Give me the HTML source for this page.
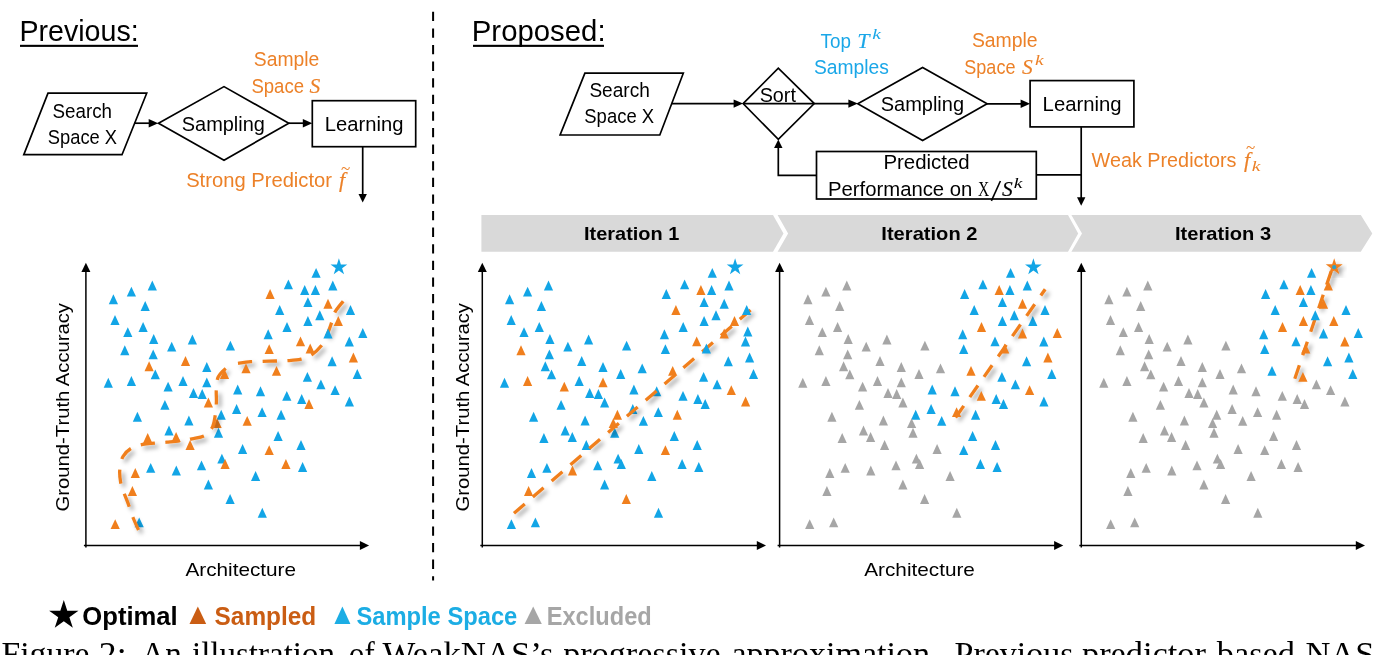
<!DOCTYPE html>
<html><head><meta charset="utf-8"><title>WeakNAS figure</title>
<style>html,body{margin:0;padding:0;background:#fff;}body{width:1380px;height:655px;overflow:hidden;font-family:"Liberation Sans",sans-serif;}svg{display:block;will-change:transform;}text{font-family:"Liberation Sans",sans-serif;}.m{font-family:"Liberation Serif",serif;font-style:italic;stroke-width:0.15px;}.s{font-family:"Liberation Serif",serif;}</style></head><body>
<svg width="1380" height="655" viewBox="0 0 1380 655">
<defs><filter id="sh" x="-20%" y="-20%" width="140%" height="140%"><feDropShadow dx="3.2" dy="3.2" stdDeviation="2.2" flood-color="#000" flood-opacity="0.36"/></filter></defs>
<rect x="0" y="0" width="1380" height="655" fill="#fff"/>
<text x="19.47" y="40.9" font-size="28.7" fill="#000" textLength="119.22" lengthAdjust="spacingAndGlyphs">Previous:</text>
<rect x="20" y="44.8" width="118" height="2.1" fill="#000"/>
<text x="471.81" y="40.9" font-size="28.7" fill="#000" textLength="133.74" lengthAdjust="spacingAndGlyphs">Proposed:</text>
<rect x="473" y="44.8" width="131" height="2.1" fill="#000"/>
<line x1="433.1" y1="11.8" x2="433.1" y2="580.4" stroke="#000" stroke-width="2" stroke-dasharray="9.3 7.3"/>
<polygon points="48,93.2 146.7,93.2 122.0,154.7 23.8,154.7" fill="none" stroke="#000" stroke-width="1.7"/>
<text x="52.61" y="117.5" font-size="19.7" fill="#000" textLength="59.44" lengthAdjust="spacingAndGlyphs">Search</text>
<text x="47.83" y="144.29999999999998" font-size="19.7" fill="#000" textLength="69.17" lengthAdjust="spacingAndGlyphs">Space X</text>
<line x1="134.3" y1="123.2" x2="149.7" y2="123.2" stroke="#000" stroke-width="1.7"/><polygon points="158.2,123.2 148.7,119.0 148.7,127.4" fill="#000"/>
<polygon points="158.5,123.2 224,86.6 288.8,123.2 224,160.2" fill="none" stroke="#000" stroke-width="1.7"/>
<text x="181.78" y="130.6" font-size="19.7" fill="#000" textLength="83.14" lengthAdjust="spacingAndGlyphs">Sampling</text>
<line x1="288.8" y1="123.2" x2="303.8" y2="123.2" stroke="#000" stroke-width="1.7"/><polygon points="312.3,123.2 302.8,119.0 302.8,127.4" fill="#000"/>
<rect x="312.3" y="100.7" width="103.4" height="46" fill="none" stroke="#000" stroke-width="1.7"/>
<text x="324.82" y="130.9" font-size="19.7" fill="#000" textLength="78.61" lengthAdjust="spacingAndGlyphs">Learning</text>
<line x1="362.7" y1="146.7" x2="362.7" y2="195.0" stroke="#000" stroke-width="1.7"/><polygon points="362.7,202.5 358.5,194.0 366.9,194.0" fill="#000"/>
<text x="253.8" y="66.1" font-size="19.7" fill="#EC8128" textLength="65.49" lengthAdjust="spacingAndGlyphs">Sample</text>
<text y="92.6" fill="#EC8128"><tspan x="251.42" font-size="19.7" textLength="52.63" lengthAdjust="spacingAndGlyphs">Space</tspan><tspan class="m" x="309.5" font-size="21.5" stroke="#EC8128">S</tspan></text>
<text y="187.0" fill="#EC8128"><tspan x="186.17" font-size="19.7" textLength="145.83" lengthAdjust="spacingAndGlyphs">Strong Predictor</tspan><tspan class="m" x="339" font-size="22" stroke="#EC8128">f</tspan></text>
<text x="341" y="173.5" font-size="17" fill="#EC8128" class="s">~</text>
<polygon points="584.9,73.2 683.3,73.2 659.8,135 560.1,135" fill="none" stroke="#000" stroke-width="1.7"/>
<text x="589.4" y="97.0" font-size="19.7" fill="#000" textLength="60.47" lengthAdjust="spacingAndGlyphs">Search</text>
<text x="584.32" y="123.19999999999999" font-size="19.7" fill="#000" textLength="69.78" lengthAdjust="spacingAndGlyphs">Space X</text>
<line x1="671.6" y1="103.6" x2="734.6" y2="103.6" stroke="#000" stroke-width="1.7"/><polygon points="743.1,103.6 733.6,99.39999999999999 733.6,107.8" fill="#000"/>
<polygon points="743.1,103.6 778.3,68.2 814.3,103.6 778.3,139.4" fill="none" stroke="#000" stroke-width="1.7"/>
<line x1="743.1" y1="103.6" x2="814.3" y2="103.6" stroke="#000" stroke-width="1.7"/>
<text x="759.68" y="102.3" font-size="19.7" fill="#000" textLength="36.25" lengthAdjust="spacingAndGlyphs">Sort</text>
<line x1="814.3" y1="103.6" x2="849.4" y2="103.6" stroke="#000" stroke-width="1.7"/><polygon points="857.9,103.6 848.4,99.39999999999999 848.4,107.8" fill="#000"/>
<polygon points="857.8,103.8 922.6,67.4 987.1,103.8 922.6,140.4" fill="none" stroke="#000" stroke-width="1.7"/>
<text x="880.68" y="110.8" font-size="19.7" fill="#000" textLength="83.35" lengthAdjust="spacingAndGlyphs">Sampling</text>
<line x1="987.1" y1="103.8" x2="1021.5999999999999" y2="103.8" stroke="#000" stroke-width="1.7"/><polygon points="1030.1,103.8 1020.5999999999999,99.6 1020.5999999999999,108.0" fill="#000"/>
<rect x="1030.1" y="80.6" width="103.8" height="46.3" fill="none" stroke="#000" stroke-width="1.7"/>
<text x="1042.61" y="111.39999999999999" font-size="19.7" fill="#000" textLength="79.03" lengthAdjust="spacingAndGlyphs">Learning</text>
<line x1="1081.2" y1="126.9" x2="1081.2" y2="198.3" stroke="#000" stroke-width="1.7"/><polygon points="1081.2,205.8 1077.0,197.3 1085.4,197.3" fill="#000"/>
<rect x="816.5" y="151.5" width="219.8" height="47.5" fill="#fff" stroke="#000" stroke-width="1.7"/>
<line x1="1036.8" y1="174.8" x2="1081.2" y2="174.8" stroke="#000" stroke-width="1.7"/>
<polyline points="816.5,175.3 778.3,175.3 778.3,146" fill="none" stroke="#000" stroke-width="1.7"/>
<polygon points="778.3,139.4 774.1,147.9 782.5,147.9" fill="#000"/>
<text x="883.41" y="168.6" font-size="19.7" fill="#000" textLength="86.24" lengthAdjust="spacingAndGlyphs">Predicted</text>
<text y="196.2" fill="#000"><tspan x="828.02" font-size="19.7" textLength="144.32" lengthAdjust="spacingAndGlyphs">Performance on</tspan><tspan class="s" x="978.06" font-size="21.5" textLength="11.30" lengthAdjust="spacingAndGlyphs">X</tspan><tspan class="m" x="1002" font-size="21.5" stroke="#000">S</tspan><tspan class="m" font-size="15.5" textLength="8.7" lengthAdjust="spacingAndGlyphs" x="1013.8" dy="-8.7">k</tspan></text>
<line x1="991.4" y1="200.8" x2="1000.4" y2="181" stroke="#000" stroke-width="1.6"/>
<text y="47.5" fill="#1AA7E8"><tspan x="820.61" font-size="19.7" textLength="30.36" lengthAdjust="spacingAndGlyphs">Top</tspan><tspan class="m" x="857.3" font-size="22" stroke="#1AA7E8">T</tspan><tspan class="m" x="872.3" font-size="15.5" textLength="8.7" lengthAdjust="spacingAndGlyphs" dy="-8.7">k</tspan></text>
<text x="813.9" y="74.1" font-size="19.7" fill="#1AA7E8" textLength="75.0" lengthAdjust="spacingAndGlyphs">Samples</text>
<text x="971.89" y="46.6" font-size="19.7" fill="#EC8128" textLength="65.69" lengthAdjust="spacingAndGlyphs">Sample</text>
<text y="73.8" fill="#EC8128"><tspan x="964.34" font-size="19.7" textLength="51.09" lengthAdjust="spacingAndGlyphs">Space</tspan><tspan class="m" x="1022" font-size="21.5" stroke="#EC8128">S</tspan><tspan class="m" x="1035" font-size="15.5" textLength="8.7" lengthAdjust="spacingAndGlyphs" dy="-8.7">k</tspan></text>
<text y="166.8" fill="#EC8128"><tspan x="1091.60" font-size="19.7" textLength="144.82" lengthAdjust="spacingAndGlyphs">Weak Predictors</tspan><tspan class="m" x="1244" font-size="22" stroke="#EC8128">f</tspan><tspan class="m" x="1251.8" font-size="15.5" textLength="8.7" lengthAdjust="spacingAndGlyphs" dy="4.3">k</tspan></text>
<text x="1246" y="153.3" font-size="17" fill="#EC8128" class="s">~</text>
<polygon points="481.4,215.1 773,215.1 783.5,233.45 773,251.8 481.4,251.8" fill="#D9D9D9"/>
<polygon points="777.6,215.1 1068,215.1 1078.2,233.45 1068,251.8 777.6,251.8 788.1,233.45" fill="#D9D9D9"/>
<polygon points="1071.4,215.1 1360.8,215.1 1372.3,233.45 1360.8,251.8 1071.4,251.8 1082,233.45" fill="#D9D9D9"/>
<text x="584.05" y="239.8" font-size="19" fill="#000" textLength="95.34" lengthAdjust="spacingAndGlyphs" font-weight="bold">Iteration 1</text>
<text x="881.34" y="239.8" font-size="19" fill="#000" textLength="96.16" lengthAdjust="spacingAndGlyphs" font-weight="bold">Iteration 2</text>
<text x="1174.94" y="239.8" font-size="19" fill="#000" textLength="96.16" lengthAdjust="spacingAndGlyphs" font-weight="bold">Iteration 3</text>
<line x1="85.9" y1="547.5" x2="85.9" y2="270.9" stroke="#000" stroke-width="1.5"/><polygon points="85.9,262.7 81.4,271.9 90.4,271.9" fill="#000"/>
<line x1="83.9" y1="545.5" x2="361.1" y2="545.5" stroke="#000" stroke-width="1.5"/>
<polygon points="369.1,545.5 359.90000000000003,541.0 359.90000000000003,550.0" fill="#000"/>
<line x1="482.3" y1="547.5" x2="482.3" y2="270.9" stroke="#000" stroke-width="1.5"/><polygon points="482.3,262.7 477.8,271.9 486.8,271.9" fill="#000"/>
<line x1="480.3" y1="545.5" x2="758.0" y2="545.5" stroke="#000" stroke-width="1.5"/>
<polygon points="766.0,545.5 756.8,541.0 756.8,550.0" fill="#000"/>
<line x1="779.6" y1="547.5" x2="779.6" y2="270.9" stroke="#000" stroke-width="1.5"/><polygon points="779.6,262.7 775.1,271.9 784.1,271.9" fill="#000"/>
<line x1="777.6" y1="545.5" x2="1055.3" y2="545.5" stroke="#000" stroke-width="1.5"/>
<polygon points="1063.3,545.5 1054.1,541.0 1054.1,550.0" fill="#000"/>
<line x1="1081.3" y1="547.5" x2="1081.3" y2="270.9" stroke="#000" stroke-width="1.5"/><polygon points="1081.3,262.7 1076.8,271.9 1085.8,271.9" fill="#000"/>
<line x1="1079.3" y1="545.5" x2="1357.0" y2="545.5" stroke="#000" stroke-width="1.5"/>
<polygon points="1365.0,545.5 1355.8,541.0 1355.8,550.0" fill="#000"/>
<text x="185.4" y="576.1" font-size="19" fill="#000" textLength="110.64" lengthAdjust="spacingAndGlyphs">Architecture</text>
<text x="864.3" y="576.2" font-size="19" fill="#000" textLength="110.54" lengthAdjust="spacingAndGlyphs">Architecture</text>
<text transform="translate(68.9,510.5) rotate(-90)" x="-0.94" font-size="19" textLength="208.44" lengthAdjust="spacingAndGlyphs">Ground-Truth Accuracy</text>
<text transform="translate(469.1,510.5) rotate(-90)" x="-0.94" font-size="19" textLength="208.44" lengthAdjust="spacingAndGlyphs">Ground-Truth Accuracy</text>
<polygon points="108.8,304.2 118.0,304.2 113.4,294.3" fill="#12A5E6"/>
<polygon points="126.8,296.6 136.0,296.6 131.4,286.7" fill="#12A5E6"/>
<polygon points="147.7,290.4 156.9,290.4 152.3,280.5" fill="#12A5E6"/>
<polygon points="140.6,311.0 149.8,311.0 145.2,301.1" fill="#12A5E6"/>
<polygon points="110.4,325.0 119.6,325.0 115.0,315.1" fill="#12A5E6"/>
<polygon points="123.2,337.1 132.4,337.1 127.8,327.2" fill="#12A5E6"/>
<polygon points="138.5,331.9 147.7,331.9 143.1,322.0" fill="#12A5E6"/>
<polygon points="149.1,344.0 158.3,344.0 153.7,334.1" fill="#12A5E6"/>
<polygon points="120.2,355.2 129.4,355.2 124.8,345.3" fill="#12A5E6"/>
<polygon points="148.6,359.3 157.8,359.3 153.2,349.4" fill="#12A5E6"/>
<polygon points="167.1,351.6 176.3,351.6 171.7,341.7" fill="#12A5E6"/>
<polygon points="187.8,344.5 197.0,344.5 192.4,334.6" fill="#12A5E6"/>
<polygon points="225.8,350.6 235.0,350.6 230.4,340.7" fill="#12A5E6"/>
<polygon points="150.7,379.3 159.9,379.3 155.3,369.4" fill="#12A5E6"/>
<polygon points="202.2,371.9 211.4,371.9 206.8,362.0" fill="#12A5E6"/>
<polygon points="103.7,387.7 112.9,387.7 108.3,377.8" fill="#12A5E6"/>
<polygon points="126.8,385.9 136.0,385.9 131.4,376.0" fill="#12A5E6"/>
<polygon points="178.4,385.9 187.6,385.9 183.0,376.0" fill="#12A5E6"/>
<polygon points="163.5,391.6 172.7,391.6 168.1,381.7" fill="#12A5E6"/>
<polygon points="202.2,387.3 211.4,387.3 206.8,377.4" fill="#12A5E6"/>
<polygon points="188.9,398.0 198.1,398.0 193.5,388.1" fill="#12A5E6"/>
<polygon points="197.6,399.0 206.8,399.0 202.2,389.1" fill="#12A5E6"/>
<polygon points="160.3,409.8 169.5,409.8 164.9,399.9" fill="#12A5E6"/>
<polygon points="233.1,394.5 242.3,394.5 237.7,384.6" fill="#12A5E6"/>
<polygon points="311.5,277.8 320.7,277.8 316.1,267.9" fill="#12A5E6"/>
<polygon points="283.8,289.3 293.0,289.3 288.4,279.4" fill="#12A5E6"/>
<polygon points="300.1,295.0 309.3,295.0 304.7,285.1" fill="#12A5E6"/>
<polygon points="310.8,295.0 320.0,295.0 315.4,285.1" fill="#12A5E6"/>
<polygon points="328.2,290.4 337.4,290.4 332.8,280.5" fill="#12A5E6"/>
<polygon points="303.3,307.1 312.5,307.1 307.9,297.2" fill="#12A5E6"/>
<polygon points="275.1,314.9 284.3,314.9 279.7,305.0" fill="#12A5E6"/>
<polygon points="345.9,314.9 355.1,314.9 350.5,305.0" fill="#12A5E6"/>
<polygon points="315.2,320.2 324.4,320.2 319.8,310.3" fill="#12A5E6"/>
<polygon points="303.3,325.9 312.5,325.9 307.9,316.0" fill="#12A5E6"/>
<polygon points="282.4,331.9 291.6,331.9 287.0,322.0" fill="#12A5E6"/>
<polygon points="263.6,339.2 272.8,339.2 268.2,329.3" fill="#12A5E6"/>
<polygon points="358.2,338.0 367.4,338.0 362.8,328.1" fill="#12A5E6"/>
<polygon points="344.7,346.5 353.9,346.5 349.3,336.6" fill="#12A5E6"/>
<polygon points="327.5,366.2 336.7,366.2 332.1,356.3" fill="#12A5E6"/>
<polygon points="352.7,379.0 361.9,379.0 357.3,369.1" fill="#12A5E6"/>
<polygon points="302.8,381.8 312.0,381.8 307.4,371.9" fill="#12A5E6"/>
<polygon points="316.3,389.3 325.5,389.3 320.9,379.4" fill="#12A5E6"/>
<polygon points="255.9,396.2 265.1,396.2 260.5,386.3" fill="#12A5E6"/>
<polygon points="330.5,395.1 339.7,395.1 335.1,385.2" fill="#12A5E6"/>
<polygon points="282.2,400.8 291.4,400.8 286.8,390.9" fill="#12A5E6"/>
<polygon points="297.1,404.0 306.3,404.0 301.7,394.1" fill="#12A5E6"/>
<polygon points="344.8,406.5 354.0,406.5 349.4,396.6" fill="#12A5E6"/>
<polygon points="132.8,421.7 142.0,421.7 137.4,411.8" fill="#12A5E6"/>
<polygon points="184.3,425.4 193.5,425.4 188.9,415.5" fill="#12A5E6"/>
<polygon points="216.6,419.7 225.8,419.7 221.2,409.8" fill="#12A5E6"/>
<polygon points="232.0,413.9 241.2,413.9 236.6,404.0" fill="#12A5E6"/>
<polygon points="164.4,435.5 173.6,435.5 169.0,425.6" fill="#12A5E6"/>
<polygon points="212.5,428.1 221.7,428.1 217.1,418.2" fill="#F07F1D"/>
<polygon points="213.9,437.7 223.1,437.7 218.5,427.8" fill="#12A5E6"/>
<polygon points="217.3,463.6 226.5,463.6 221.9,453.7" fill="#12A5E6"/>
<polygon points="146.1,472.8 155.3,472.8 150.7,462.9" fill="#12A5E6"/>
<polygon points="171.7,475.5 180.9,475.5 176.3,465.6" fill="#12A5E6"/>
<polygon points="196.9,470.3 206.1,470.3 201.5,460.4" fill="#12A5E6"/>
<polygon points="203.8,489.5 213.0,489.5 208.4,479.6" fill="#12A5E6"/>
<polygon points="225.5,503.9 234.7,503.9 230.1,494.0" fill="#12A5E6"/>
<polygon points="134.6,527.3 143.8,527.3 139.2,517.4" fill="#12A5E6"/>
<polygon points="257.5,417.1 266.7,417.1 262.1,407.2" fill="#12A5E6"/>
<polygon points="276.5,419.7 285.7,419.7 281.1,409.8" fill="#12A5E6"/>
<polygon points="273.5,440.9 282.7,440.9 278.1,431.0" fill="#12A5E6"/>
<polygon points="238.0,454.0 247.2,454.0 242.6,444.1" fill="#12A5E6"/>
<polygon points="296.4,449.9 305.6,449.9 301.0,440.0" fill="#12A5E6"/>
<polygon points="298.0,471.9 307.2,471.9 302.6,462.0" fill="#12A5E6"/>
<polygon points="251.0,481.0 260.2,481.0 255.6,471.1" fill="#12A5E6"/>
<polygon points="257.7,517.7 266.9,517.7 262.3,507.8" fill="#12A5E6"/>
<polygon points="338.90,258.30 340.88,264.38 347.27,264.38 342.10,268.14 344.07,274.22 338.90,270.46 333.73,274.22 335.70,268.14 330.53,264.38 336.92,264.38" fill="#12A5E6"/>
<g filter="url(#sh)" fill="none" stroke="#F07F1D" stroke-width="3.3" stroke-dasharray="14.2 10.6"><path d="M138.5,530.0 C137.6,527.9 134.8,522.1 133.0,517.5 C131.2,512.9 129.3,506.7 127.8,502.6 C126.3,498.5 125.2,496.4 124.0,493.0 C122.8,489.6 121.3,485.9 120.6,482.0 C119.9,478.1 119.4,473.6 119.8,469.4 C120.2,465.1 121.1,460.0 123.0,456.5 C124.9,453.0 127.9,450.3 131.2,448.3 C134.5,446.3 138.7,445.3 142.7,444.4 C146.7,443.5 151.3,443.5 155.3,443.1 C159.3,442.7 162.5,442.6 166.7,442.2 C170.9,441.8 176.3,441.4 180.5,440.8 C184.7,440.2 188.0,439.7 192.0,438.8 C196.0,437.9 201.2,437.4 204.5,435.6 C207.8,433.8 210.2,431.1 212.0,428.0 C213.8,424.9 214.3,421.1 215.0,416.8 C215.7,412.5 216.2,406.5 216.4,402.0 C216.6,397.5 216.0,394.2 216.3,390.0 C216.6,385.8 216.4,380.8 218.2,377.0 C220.0,373.2 224.6,369.4 227.0,367.4 C229.4,365.4 231.6,365.4 232.5,365.0"/><path d="M238.0,363.3 C240.1,363.0 246.6,362.0 250.6,361.7 C254.6,361.4 257.8,361.5 262.0,361.4 C266.2,361.3 271.6,361.1 275.8,361.0 C280.0,360.9 283.0,361.0 287.2,360.7 C291.4,360.4 296.9,360.2 301.0,359.2 C305.1,358.2 308.5,356.8 311.9,354.6 C315.3,352.4 318.9,348.8 321.3,345.8 C323.7,342.8 324.8,340.2 326.5,336.4 C328.2,332.6 330.0,327.2 331.4,323.1 C332.8,319.0 333.1,315.5 335.1,311.9 C337.1,308.2 341.9,303.0 343.2,301.2"/></g>
<polygon points="144.5,371.2 153.7,371.2 149.1,361.3" fill="#F07F1D"/>
<polygon points="180.9,366.0 190.1,366.0 185.5,356.1" fill="#F07F1D"/>
<polygon points="203.8,407.5 213.0,407.5 208.4,397.6" fill="#F07F1D"/>
<polygon points="219.9,378.9 229.1,378.9 224.5,369.0" fill="#F07F1D"/>
<polygon points="265.5,298.9 274.7,298.9 270.1,289.0" fill="#F07F1D"/>
<polygon points="323.4,308.7 332.6,308.7 328.0,298.8" fill="#F07F1D"/>
<polygon points="333.7,325.9 342.9,325.9 338.3,316.0" fill="#F07F1D"/>
<polygon points="323.4,338.5 332.6,338.5 328.0,328.6" fill="#12A5E6"/>
<polygon points="295.9,346.3 305.1,346.3 300.5,336.4" fill="#F07F1D"/>
<polygon points="264.6,354.1 273.8,354.1 269.2,344.2" fill="#F07F1D"/>
<polygon points="305.6,353.5 314.8,353.5 310.2,343.6" fill="#F07F1D"/>
<polygon points="348.8,362.5 358.0,362.5 353.4,352.6" fill="#F07F1D"/>
<polygon points="241.4,373.3 250.6,373.3 246.0,363.4" fill="#F07F1D"/>
<polygon points="271.9,375.8 281.1,375.8 276.5,365.9" fill="#F07F1D"/>
<polygon points="304.4,409.0 313.6,409.0 309.0,399.1" fill="#F07F1D"/>
<polygon points="143.1,443.0 152.3,443.0 147.7,433.1" fill="#F07F1D"/>
<polygon points="171.5,441.9 180.7,441.9 176.1,432.0" fill="#F07F1D"/>
<polygon points="185.5,449.9 194.7,449.9 190.1,440.0" fill="#F07F1D"/>
<polygon points="220.5,468.9 229.7,468.9 225.1,459.0" fill="#F07F1D"/>
<polygon points="130.7,478.0 139.9,478.0 135.3,468.1" fill="#F07F1D"/>
<polygon points="127.8,495.9 137.0,495.9 132.4,486.0" fill="#F07F1D"/>
<polygon points="110.6,529.1 119.8,529.1 115.2,519.2" fill="#F07F1D"/>
<polygon points="242.6,425.8 251.8,425.8 247.2,415.9" fill="#F07F1D"/>
<polygon points="264.6,455.1 273.8,455.1 269.2,445.2" fill="#F07F1D"/>
<polygon points="281.3,468.9 290.5,468.9 285.9,459.0" fill="#F07F1D"/>
<polygon points="505.0,304.2 514.2,304.2 509.6,294.3" fill="#12A5E6"/>
<polygon points="523.0,296.6 532.2,296.6 527.6,286.7" fill="#12A5E6"/>
<polygon points="543.9,290.4 553.1,290.4 548.5,280.5" fill="#12A5E6"/>
<polygon points="536.8,311.0 546.0,311.0 541.4,301.1" fill="#12A5E6"/>
<polygon points="506.6,325.0 515.8,325.0 511.2,315.1" fill="#12A5E6"/>
<polygon points="519.4,337.1 528.6,337.1 524.0,327.2" fill="#12A5E6"/>
<polygon points="534.7,331.9 543.9,331.9 539.3,322.0" fill="#12A5E6"/>
<polygon points="545.3,344.0 554.5,344.0 549.9,334.1" fill="#12A5E6"/>
<polygon points="544.8,359.3 554.0,359.3 549.4,349.4" fill="#12A5E6"/>
<polygon points="563.3,351.6 572.5,351.6 567.9,341.7" fill="#12A5E6"/>
<polygon points="584.0,344.5 593.2,344.5 588.6,334.6" fill="#12A5E6"/>
<polygon points="622.0,350.6 631.2,350.6 626.6,340.7" fill="#12A5E6"/>
<polygon points="540.7,371.2 549.9,371.2 545.3,361.3" fill="#12A5E6"/>
<polygon points="577.1,366.0 586.3,366.0 581.7,356.1" fill="#12A5E6"/>
<polygon points="546.9,379.3 556.1,379.3 551.5,369.4" fill="#12A5E6"/>
<polygon points="598.4,371.9 607.6,371.9 603.0,362.0" fill="#12A5E6"/>
<polygon points="499.9,387.7 509.1,387.7 504.5,377.8" fill="#12A5E6"/>
<polygon points="574.6,385.9 583.8,385.9 579.2,376.0" fill="#12A5E6"/>
<polygon points="585.1,398.0 594.3,398.0 589.7,388.1" fill="#12A5E6"/>
<polygon points="593.8,399.0 603.0,399.0 598.4,389.1" fill="#12A5E6"/>
<polygon points="556.5,409.8 565.7,409.8 561.1,399.9" fill="#12A5E6"/>
<polygon points="600.0,407.5 609.2,407.5 604.6,397.6" fill="#12A5E6"/>
<polygon points="616.1,378.9 625.3,378.9 620.7,369.0" fill="#12A5E6"/>
<polygon points="629.3,394.5 638.5,394.5 633.9,384.6" fill="#12A5E6"/>
<polygon points="707.7,277.8 716.9,277.8 712.3,267.9" fill="#12A5E6"/>
<polygon points="680.0,289.3 689.2,289.3 684.6,279.4" fill="#12A5E6"/>
<polygon points="707.0,295.0 716.2,295.0 711.6,285.1" fill="#12A5E6"/>
<polygon points="724.4,290.4 733.6,290.4 729.0,280.5" fill="#12A5E6"/>
<polygon points="661.7,298.9 670.9,298.9 666.3,289.0" fill="#12A5E6"/>
<polygon points="699.5,307.1 708.7,307.1 704.1,297.2" fill="#12A5E6"/>
<polygon points="719.6,308.7 728.8,308.7 724.2,298.8" fill="#12A5E6"/>
<polygon points="711.4,320.2 720.6,320.2 716.0,310.3" fill="#12A5E6"/>
<polygon points="699.5,325.9 708.7,325.9 704.1,316.0" fill="#12A5E6"/>
<polygon points="678.6,331.9 687.8,331.9 683.2,322.0" fill="#12A5E6"/>
<polygon points="659.8,339.2 669.0,339.2 664.4,329.3" fill="#12A5E6"/>
<polygon points="743.2,336.5 752.4,336.5 747.8,326.6" fill="#12A5E6"/>
<polygon points="740.9,346.5 750.1,346.5 745.5,336.6" fill="#12A5E6"/>
<polygon points="660.8,354.1 670.0,354.1 665.4,344.2" fill="#12A5E6"/>
<polygon points="745.0,362.5 754.2,362.5 749.6,352.6" fill="#12A5E6"/>
<polygon points="723.7,366.2 732.9,366.2 728.3,356.3" fill="#12A5E6"/>
<polygon points="637.6,373.3 646.8,373.3 642.2,363.4" fill="#12A5E6"/>
<polygon points="748.9,379.0 758.1,379.0 753.5,369.1" fill="#12A5E6"/>
<polygon points="699.0,381.8 708.2,381.8 703.6,371.9" fill="#12A5E6"/>
<polygon points="712.5,389.3 721.7,389.3 717.1,379.4" fill="#12A5E6"/>
<polygon points="652.1,396.2 661.3,396.2 656.7,386.3" fill="#12A5E6"/>
<polygon points="678.4,400.8 687.6,400.8 683.0,390.9" fill="#12A5E6"/>
<polygon points="693.3,404.0 702.5,404.0 697.9,394.1" fill="#12A5E6"/>
<polygon points="700.6,409.0 709.8,409.0 705.2,399.1" fill="#12A5E6"/>
<polygon points="529.0,421.7 538.2,421.7 533.6,411.8" fill="#12A5E6"/>
<polygon points="580.5,425.4 589.7,425.4 585.1,415.5" fill="#12A5E6"/>
<polygon points="628.2,413.9 637.4,413.9 632.8,404.0" fill="#12A5E6"/>
<polygon points="560.6,435.5 569.8,435.5 565.2,425.6" fill="#12A5E6"/>
<polygon points="610.1,437.7 619.3,437.7 614.7,427.8" fill="#12A5E6"/>
<polygon points="539.3,443.0 548.5,443.0 543.9,433.1" fill="#12A5E6"/>
<polygon points="567.7,441.9 576.9,441.9 572.3,432.0" fill="#12A5E6"/>
<polygon points="581.7,449.9 590.9,449.9 586.3,440.0" fill="#12A5E6"/>
<polygon points="613.5,463.6 622.7,463.6 618.1,453.7" fill="#12A5E6"/>
<polygon points="616.7,468.9 625.9,468.9 621.3,459.0" fill="#12A5E6"/>
<polygon points="542.3,472.8 551.5,472.8 546.9,462.9" fill="#12A5E6"/>
<polygon points="593.1,470.3 602.3,470.3 597.7,460.4" fill="#12A5E6"/>
<polygon points="526.9,478.0 536.1,478.0 531.5,468.1" fill="#12A5E6"/>
<polygon points="600.0,489.5 609.2,489.5 604.6,479.6" fill="#12A5E6"/>
<polygon points="506.8,529.1 516.0,529.1 511.4,519.2" fill="#12A5E6"/>
<polygon points="530.8,527.3 540.0,527.3 535.4,517.4" fill="#12A5E6"/>
<polygon points="653.7,417.1 662.9,417.1 658.3,407.2" fill="#12A5E6"/>
<polygon points="638.8,425.8 648.0,425.8 643.4,415.9" fill="#12A5E6"/>
<polygon points="669.7,440.9 678.9,440.9 674.3,431.0" fill="#12A5E6"/>
<polygon points="634.2,454.0 643.4,454.0 638.8,444.1" fill="#12A5E6"/>
<polygon points="692.6,449.9 701.8,449.9 697.2,440.0" fill="#12A5E6"/>
<polygon points="677.5,468.9 686.7,468.9 682.1,459.0" fill="#12A5E6"/>
<polygon points="694.2,471.9 703.4,471.9 698.8,462.0" fill="#12A5E6"/>
<polygon points="647.2,481.0 656.4,481.0 651.8,471.1" fill="#12A5E6"/>
<polygon points="653.9,517.7 663.1,517.7 658.5,507.8" fill="#12A5E6"/>
<polygon points="735.10,258.30 737.08,264.38 743.47,264.38 738.30,268.14 740.27,274.22 735.10,270.46 729.93,274.22 731.90,268.14 726.73,264.38 733.12,264.38" fill="#12A5E6"/>
<path d="M514,513.2 L751.2,309.6" fill="none" stroke="#F07F1D" stroke-width="3.3" stroke-dasharray="14.2 10.6" filter="url(#sh)"/>
<polygon points="516.4,355.2 525.6,355.2 521.0,345.3" fill="#F07F1D"/>
<polygon points="523.0,385.9 532.2,385.9 527.6,376.0" fill="#F07F1D"/>
<polygon points="559.7,391.6 568.9,391.6 564.3,381.7" fill="#F07F1D"/>
<polygon points="598.4,387.3 607.6,387.3 603.0,377.4" fill="#F07F1D"/>
<polygon points="696.3,295.0 705.5,295.0 700.9,285.1" fill="#F07F1D"/>
<polygon points="671.3,314.9 680.5,314.9 675.9,305.0" fill="#F07F1D"/>
<polygon points="742.1,314.9 751.3,314.9 746.7,305.0" fill="#12A5E6"/>
<polygon points="729.9,325.9 739.1,325.9 734.5,316.0" fill="#F07F1D"/>
<polygon points="719.6,338.5 728.8,338.5 724.2,328.6" fill="#F07F1D"/>
<polygon points="692.1,346.3 701.3,346.3 696.7,336.4" fill="#F07F1D"/>
<polygon points="701.8,353.5 711.0,353.5 706.4,343.6" fill="#12A5E6"/>
<polygon points="668.1,375.8 677.3,375.8 672.7,365.9" fill="#F07F1D"/>
<polygon points="726.7,395.1 735.9,395.1 731.3,385.2" fill="#F07F1D"/>
<polygon points="741.0,406.5 750.2,406.5 745.6,396.6" fill="#F07F1D"/>
<polygon points="612.8,419.7 622.0,419.7 617.4,409.8" fill="#F07F1D"/>
<polygon points="608.7,428.1 617.9,428.1 613.3,418.2" fill="#F07F1D"/>
<polygon points="567.9,475.5 577.1,475.5 572.5,465.6" fill="#F07F1D"/>
<polygon points="524.0,495.9 533.2,495.9 528.6,486.0" fill="#F07F1D"/>
<polygon points="621.7,503.9 630.9,503.9 626.3,494.0" fill="#F07F1D"/>
<polygon points="672.7,419.7 681.9,419.7 677.3,409.8" fill="#F07F1D"/>
<polygon points="660.8,455.1 670.0,455.1 665.4,445.2" fill="#F07F1D"/>
<polygon points="803.3,304.2 812.5,304.2 807.9,294.3" fill="#A6A6A6"/>
<polygon points="821.3,296.6 830.5,296.6 825.9,286.7" fill="#A6A6A6"/>
<polygon points="842.2,290.4 851.4,290.4 846.8,280.5" fill="#A6A6A6"/>
<polygon points="835.1,311.0 844.3,311.0 839.7,301.1" fill="#A6A6A6"/>
<polygon points="804.9,325.0 814.1,325.0 809.5,315.1" fill="#A6A6A6"/>
<polygon points="817.7,337.1 826.9,337.1 822.3,327.2" fill="#A6A6A6"/>
<polygon points="833.0,331.9 842.2,331.9 837.6,322.0" fill="#A6A6A6"/>
<polygon points="843.6,344.0 852.8,344.0 848.2,334.1" fill="#A6A6A6"/>
<polygon points="814.7,355.2 823.9,355.2 819.3,345.3" fill="#A6A6A6"/>
<polygon points="843.1,359.3 852.3,359.3 847.7,349.4" fill="#A6A6A6"/>
<polygon points="861.6,351.6 870.8,351.6 866.2,341.7" fill="#A6A6A6"/>
<polygon points="882.3,344.5 891.5,344.5 886.9,334.6" fill="#A6A6A6"/>
<polygon points="920.3,350.6 929.5,350.6 924.9,340.7" fill="#A6A6A6"/>
<polygon points="839.0,371.2 848.2,371.2 843.6,361.3" fill="#A6A6A6"/>
<polygon points="875.4,366.0 884.6,366.0 880.0,356.1" fill="#A6A6A6"/>
<polygon points="845.2,379.3 854.4,379.3 849.8,369.4" fill="#A6A6A6"/>
<polygon points="896.7,371.9 905.9,371.9 901.3,362.0" fill="#A6A6A6"/>
<polygon points="798.2,387.7 807.4,387.7 802.8,377.8" fill="#A6A6A6"/>
<polygon points="821.3,385.9 830.5,385.9 825.9,376.0" fill="#A6A6A6"/>
<polygon points="872.9,385.9 882.1,385.9 877.5,376.0" fill="#A6A6A6"/>
<polygon points="858.0,391.6 867.2,391.6 862.6,381.7" fill="#A6A6A6"/>
<polygon points="896.7,387.3 905.9,387.3 901.3,377.4" fill="#A6A6A6"/>
<polygon points="883.4,398.0 892.6,398.0 888.0,388.1" fill="#A6A6A6"/>
<polygon points="892.1,399.0 901.3,399.0 896.7,389.1" fill="#A6A6A6"/>
<polygon points="854.8,409.8 864.0,409.8 859.4,399.9" fill="#A6A6A6"/>
<polygon points="898.3,407.5 907.5,407.5 902.9,397.6" fill="#A6A6A6"/>
<polygon points="914.4,378.9 923.6,378.9 919.0,369.0" fill="#A6A6A6"/>
<polygon points="927.6,394.5 936.8,394.5 932.2,384.6" fill="#12A5E6"/>
<polygon points="1006.0,277.8 1015.2,277.8 1010.6,267.9" fill="#12A5E6"/>
<polygon points="978.3,289.3 987.5,289.3 982.9,279.4" fill="#12A5E6"/>
<polygon points="1005.3,295.0 1014.5,295.0 1009.9,285.1" fill="#12A5E6"/>
<polygon points="1022.7,290.4 1031.9,290.4 1027.3,280.5" fill="#12A5E6"/>
<polygon points="960.0,298.9 969.2,298.9 964.6,289.0" fill="#12A5E6"/>
<polygon points="997.8,307.1 1007.0,307.1 1002.4,297.2" fill="#12A5E6"/>
<polygon points="969.6,314.9 978.8,314.9 974.2,305.0" fill="#12A5E6"/>
<polygon points="1040.4,314.9 1049.6,314.9 1045.0,305.0" fill="#12A5E6"/>
<polygon points="1009.7,320.2 1018.9,320.2 1014.3,310.3" fill="#12A5E6"/>
<polygon points="997.8,325.9 1007.0,325.9 1002.4,316.0" fill="#12A5E6"/>
<polygon points="1028.2,325.9 1037.4,325.9 1032.8,316.0" fill="#12A5E6"/>
<polygon points="958.1,339.2 967.3,339.2 962.7,329.3" fill="#12A5E6"/>
<polygon points="990.4,346.3 999.6,346.3 995.0,336.4" fill="#12A5E6"/>
<polygon points="1039.2,346.5 1048.4,346.5 1043.8,336.6" fill="#12A5E6"/>
<polygon points="959.1,354.1 968.3,354.1 963.7,344.2" fill="#12A5E6"/>
<polygon points="1022.0,366.2 1031.2,366.2 1026.6,356.3" fill="#12A5E6"/>
<polygon points="935.9,373.3 945.1,373.3 940.5,363.4" fill="#A6A6A6"/>
<polygon points="1047.2,379.0 1056.4,379.0 1051.8,369.1" fill="#12A5E6"/>
<polygon points="997.3,381.8 1006.5,381.8 1001.9,371.9" fill="#12A5E6"/>
<polygon points="1010.8,389.3 1020.0,389.3 1015.4,379.4" fill="#12A5E6"/>
<polygon points="950.4,396.2 959.6,396.2 955.0,386.3" fill="#12A5E6"/>
<polygon points="991.6,404.0 1000.8,404.0 996.2,394.1" fill="#12A5E6"/>
<polygon points="1039.3,406.5 1048.5,406.5 1043.9,396.6" fill="#12A5E6"/>
<polygon points="998.9,409.0 1008.1,409.0 1003.5,399.1" fill="#12A5E6"/>
<polygon points="827.3,421.7 836.5,421.7 831.9,411.8" fill="#A6A6A6"/>
<polygon points="878.8,425.4 888.0,425.4 883.4,415.5" fill="#A6A6A6"/>
<polygon points="911.1,419.7 920.3,419.7 915.7,409.8" fill="#12A5E6"/>
<polygon points="926.5,413.9 935.7,413.9 931.1,404.0" fill="#12A5E6"/>
<polygon points="858.9,435.5 868.1,435.5 863.5,425.6" fill="#A6A6A6"/>
<polygon points="907.0,428.1 916.2,428.1 911.6,418.2" fill="#A6A6A6"/>
<polygon points="908.4,437.7 917.6,437.7 913.0,427.8" fill="#A6A6A6"/>
<polygon points="837.6,443.0 846.8,443.0 842.2,433.1" fill="#A6A6A6"/>
<polygon points="866.0,441.9 875.2,441.9 870.6,432.0" fill="#A6A6A6"/>
<polygon points="880.0,449.9 889.2,449.9 884.6,440.0" fill="#A6A6A6"/>
<polygon points="911.8,463.6 921.0,463.6 916.4,453.7" fill="#A6A6A6"/>
<polygon points="915.0,468.9 924.2,468.9 919.6,459.0" fill="#A6A6A6"/>
<polygon points="840.6,472.8 849.8,472.8 845.2,462.9" fill="#A6A6A6"/>
<polygon points="866.2,475.5 875.4,475.5 870.8,465.6" fill="#A6A6A6"/>
<polygon points="891.4,470.3 900.6,470.3 896.0,460.4" fill="#A6A6A6"/>
<polygon points="825.2,478.0 834.4,478.0 829.8,468.1" fill="#A6A6A6"/>
<polygon points="898.3,489.5 907.5,489.5 902.9,479.6" fill="#A6A6A6"/>
<polygon points="822.3,495.9 831.5,495.9 826.9,486.0" fill="#A6A6A6"/>
<polygon points="920.0,503.9 929.2,503.9 924.6,494.0" fill="#A6A6A6"/>
<polygon points="805.1,529.1 814.3,529.1 809.7,519.2" fill="#A6A6A6"/>
<polygon points="829.1,527.3 838.3,527.3 833.7,517.4" fill="#A6A6A6"/>
<polygon points="971.0,419.7 980.2,419.7 975.6,409.8" fill="#12A5E6"/>
<polygon points="937.1,425.8 946.3,425.8 941.7,415.9" fill="#12A5E6"/>
<polygon points="968.0,440.9 977.2,440.9 972.6,431.0" fill="#12A5E6"/>
<polygon points="932.5,454.0 941.7,454.0 937.1,444.1" fill="#A6A6A6"/>
<polygon points="959.1,455.1 968.3,455.1 963.7,445.2" fill="#12A5E6"/>
<polygon points="990.9,449.9 1000.1,449.9 995.5,440.0" fill="#12A5E6"/>
<polygon points="975.8,468.9 985.0,468.9 980.4,459.0" fill="#12A5E6"/>
<polygon points="992.5,471.9 1001.7,471.9 997.1,462.0" fill="#12A5E6"/>
<polygon points="945.5,481.0 954.7,481.0 950.1,471.1" fill="#A6A6A6"/>
<polygon points="952.2,517.7 961.4,517.7 956.8,507.8" fill="#A6A6A6"/>
<polygon points="1033.40,258.30 1035.38,264.38 1041.77,264.38 1036.60,268.14 1038.57,274.22 1033.40,270.46 1028.23,274.22 1030.20,268.14 1025.03,264.38 1031.42,264.38" fill="#12A5E6"/>
<path d="M955.6,417.5 L1045.2,289.2" fill="none" stroke="#F07F1D" stroke-width="3.3" stroke-dasharray="14.2 10.6" filter="url(#sh)"/>
<polygon points="994.6,295.0 1003.8,295.0 999.2,285.1" fill="#F07F1D"/>
<polygon points="1017.9,308.7 1027.1,308.7 1022.5,298.8" fill="#F07F1D"/>
<polygon points="976.9,331.9 986.1,331.9 981.5,322.0" fill="#F07F1D"/>
<polygon points="1017.9,338.5 1027.1,338.5 1022.5,328.6" fill="#F07F1D"/>
<polygon points="1052.7,338.0 1061.9,338.0 1057.3,328.1" fill="#F07F1D"/>
<polygon points="1000.1,353.5 1009.3,353.5 1004.7,343.6" fill="#F07F1D"/>
<polygon points="1043.3,362.5 1052.5,362.5 1047.9,352.6" fill="#F07F1D"/>
<polygon points="966.4,375.8 975.6,375.8 971.0,365.9" fill="#F07F1D"/>
<polygon points="1025.0,395.1 1034.2,395.1 1029.6,385.2" fill="#F07F1D"/>
<polygon points="976.7,400.8 985.9,400.8 981.3,390.9" fill="#F07F1D"/>
<polygon points="952.0,417.1 961.2,417.1 956.6,407.2" fill="#F07F1D"/>
<polygon points="1104.3,304.2 1113.5,304.2 1108.9,294.3" fill="#A6A6A6"/>
<polygon points="1122.3,296.6 1131.5,296.6 1126.9,286.7" fill="#A6A6A6"/>
<polygon points="1143.2,290.4 1152.4,290.4 1147.8,280.5" fill="#A6A6A6"/>
<polygon points="1136.1,311.0 1145.3,311.0 1140.7,301.1" fill="#A6A6A6"/>
<polygon points="1105.9,325.0 1115.1,325.0 1110.5,315.1" fill="#A6A6A6"/>
<polygon points="1118.7,337.1 1127.9,337.1 1123.3,327.2" fill="#A6A6A6"/>
<polygon points="1134.0,331.9 1143.2,331.9 1138.6,322.0" fill="#A6A6A6"/>
<polygon points="1144.6,344.0 1153.8,344.0 1149.2,334.1" fill="#A6A6A6"/>
<polygon points="1115.7,355.2 1124.9,355.2 1120.3,345.3" fill="#A6A6A6"/>
<polygon points="1144.1,359.3 1153.3,359.3 1148.7,349.4" fill="#A6A6A6"/>
<polygon points="1162.6,351.6 1171.8,351.6 1167.2,341.7" fill="#A6A6A6"/>
<polygon points="1183.3,344.5 1192.5,344.5 1187.9,334.6" fill="#A6A6A6"/>
<polygon points="1221.3,350.6 1230.5,350.6 1225.9,340.7" fill="#A6A6A6"/>
<polygon points="1140.0,371.2 1149.2,371.2 1144.6,361.3" fill="#A6A6A6"/>
<polygon points="1176.4,366.0 1185.6,366.0 1181.0,356.1" fill="#A6A6A6"/>
<polygon points="1146.2,379.3 1155.4,379.3 1150.8,369.4" fill="#A6A6A6"/>
<polygon points="1197.7,371.9 1206.9,371.9 1202.3,362.0" fill="#A6A6A6"/>
<polygon points="1099.2,387.7 1108.4,387.7 1103.8,377.8" fill="#A6A6A6"/>
<polygon points="1122.3,385.9 1131.5,385.9 1126.9,376.0" fill="#A6A6A6"/>
<polygon points="1173.9,385.9 1183.1,385.9 1178.5,376.0" fill="#A6A6A6"/>
<polygon points="1159.0,391.6 1168.2,391.6 1163.6,381.7" fill="#A6A6A6"/>
<polygon points="1197.7,387.3 1206.9,387.3 1202.3,377.4" fill="#A6A6A6"/>
<polygon points="1184.4,398.0 1193.6,398.0 1189.0,388.1" fill="#A6A6A6"/>
<polygon points="1193.1,399.0 1202.3,399.0 1197.7,389.1" fill="#A6A6A6"/>
<polygon points="1155.8,409.8 1165.0,409.8 1160.4,399.9" fill="#A6A6A6"/>
<polygon points="1199.3,407.5 1208.5,407.5 1203.9,397.6" fill="#A6A6A6"/>
<polygon points="1215.4,378.9 1224.6,378.9 1220.0,369.0" fill="#A6A6A6"/>
<polygon points="1228.6,394.5 1237.8,394.5 1233.2,384.6" fill="#A6A6A6"/>
<polygon points="1307.0,277.8 1316.2,277.8 1311.6,267.9" fill="#12A5E6"/>
<polygon points="1279.3,289.3 1288.5,289.3 1283.9,279.4" fill="#12A5E6"/>
<polygon points="1306.3,295.0 1315.5,295.0 1310.9,285.1" fill="#12A5E6"/>
<polygon points="1261.0,298.9 1270.2,298.9 1265.6,289.0" fill="#12A5E6"/>
<polygon points="1298.8,307.1 1308.0,307.1 1303.4,297.2" fill="#12A5E6"/>
<polygon points="1270.6,314.9 1279.8,314.9 1275.2,305.0" fill="#12A5E6"/>
<polygon points="1341.4,314.9 1350.6,314.9 1346.0,305.0" fill="#12A5E6"/>
<polygon points="1259.1,339.2 1268.3,339.2 1263.7,329.3" fill="#12A5E6"/>
<polygon points="1318.9,338.5 1328.1,338.5 1323.5,328.6" fill="#12A5E6"/>
<polygon points="1353.7,338.0 1362.9,338.0 1358.3,328.1" fill="#12A5E6"/>
<polygon points="1291.4,346.3 1300.6,346.3 1296.0,336.4" fill="#12A5E6"/>
<polygon points="1260.1,354.1 1269.3,354.1 1264.7,344.2" fill="#12A5E6"/>
<polygon points="1344.3,362.5 1353.5,362.5 1348.9,352.6" fill="#12A5E6"/>
<polygon points="1323.0,366.2 1332.2,366.2 1327.6,356.3" fill="#12A5E6"/>
<polygon points="1236.9,373.3 1246.1,373.3 1241.5,363.4" fill="#A6A6A6"/>
<polygon points="1267.4,375.8 1276.6,375.8 1272.0,365.9" fill="#12A5E6"/>
<polygon points="1348.2,379.0 1357.4,379.0 1352.8,369.1" fill="#12A5E6"/>
<polygon points="1311.8,389.3 1321.0,389.3 1316.4,379.4" fill="#A6A6A6"/>
<polygon points="1251.4,396.2 1260.6,396.2 1256.0,386.3" fill="#A6A6A6"/>
<polygon points="1326.0,395.1 1335.2,395.1 1330.6,385.2" fill="#A6A6A6"/>
<polygon points="1277.7,400.8 1286.9,400.8 1282.3,390.9" fill="#A6A6A6"/>
<polygon points="1292.6,404.0 1301.8,404.0 1297.2,394.1" fill="#A6A6A6"/>
<polygon points="1340.3,406.5 1349.5,406.5 1344.9,396.6" fill="#A6A6A6"/>
<polygon points="1299.9,409.0 1309.1,409.0 1304.5,399.1" fill="#A6A6A6"/>
<polygon points="1128.3,421.7 1137.5,421.7 1132.9,411.8" fill="#A6A6A6"/>
<polygon points="1179.8,425.4 1189.0,425.4 1184.4,415.5" fill="#A6A6A6"/>
<polygon points="1212.1,419.7 1221.3,419.7 1216.7,409.8" fill="#A6A6A6"/>
<polygon points="1227.5,413.9 1236.7,413.9 1232.1,404.0" fill="#A6A6A6"/>
<polygon points="1159.9,435.5 1169.1,435.5 1164.5,425.6" fill="#A6A6A6"/>
<polygon points="1208.0,428.1 1217.2,428.1 1212.6,418.2" fill="#A6A6A6"/>
<polygon points="1209.4,437.7 1218.6,437.7 1214.0,427.8" fill="#A6A6A6"/>
<polygon points="1138.6,443.0 1147.8,443.0 1143.2,433.1" fill="#A6A6A6"/>
<polygon points="1167.0,441.9 1176.2,441.9 1171.6,432.0" fill="#A6A6A6"/>
<polygon points="1181.0,449.9 1190.2,449.9 1185.6,440.0" fill="#A6A6A6"/>
<polygon points="1212.8,463.6 1222.0,463.6 1217.4,453.7" fill="#A6A6A6"/>
<polygon points="1216.0,468.9 1225.2,468.9 1220.6,459.0" fill="#A6A6A6"/>
<polygon points="1141.6,472.8 1150.8,472.8 1146.2,462.9" fill="#A6A6A6"/>
<polygon points="1167.2,475.5 1176.4,475.5 1171.8,465.6" fill="#A6A6A6"/>
<polygon points="1192.4,470.3 1201.6,470.3 1197.0,460.4" fill="#A6A6A6"/>
<polygon points="1126.2,478.0 1135.4,478.0 1130.8,468.1" fill="#A6A6A6"/>
<polygon points="1199.3,489.5 1208.5,489.5 1203.9,479.6" fill="#A6A6A6"/>
<polygon points="1123.3,495.9 1132.5,495.9 1127.9,486.0" fill="#A6A6A6"/>
<polygon points="1221.0,503.9 1230.2,503.9 1225.6,494.0" fill="#A6A6A6"/>
<polygon points="1106.1,529.1 1115.3,529.1 1110.7,519.2" fill="#A6A6A6"/>
<polygon points="1130.1,527.3 1139.3,527.3 1134.7,517.4" fill="#A6A6A6"/>
<polygon points="1253.0,417.1 1262.2,417.1 1257.6,407.2" fill="#A6A6A6"/>
<polygon points="1272.0,419.7 1281.2,419.7 1276.6,409.8" fill="#A6A6A6"/>
<polygon points="1238.1,425.8 1247.3,425.8 1242.7,415.9" fill="#A6A6A6"/>
<polygon points="1269.0,440.9 1278.2,440.9 1273.6,431.0" fill="#A6A6A6"/>
<polygon points="1233.5,454.0 1242.7,454.0 1238.1,444.1" fill="#A6A6A6"/>
<polygon points="1260.1,455.1 1269.3,455.1 1264.7,445.2" fill="#A6A6A6"/>
<polygon points="1291.9,449.9 1301.1,449.9 1296.5,440.0" fill="#A6A6A6"/>
<polygon points="1276.8,468.9 1286.0,468.9 1281.4,459.0" fill="#A6A6A6"/>
<polygon points="1293.5,471.9 1302.7,471.9 1298.1,462.0" fill="#A6A6A6"/>
<polygon points="1246.5,481.0 1255.7,481.0 1251.1,471.1" fill="#A6A6A6"/>
<polygon points="1253.2,517.7 1262.4,517.7 1257.8,507.8" fill="#A6A6A6"/>
<path d="M1294.8,378.7 L1333,266" fill="none" stroke="#F07F1D" stroke-width="3.3" stroke-dasharray="14.2 10.6" filter="url(#sh)"/>
<polygon points="1295.6,295.0 1304.8,295.0 1300.2,285.1" fill="#F07F1D"/>
<polygon points="1323.7,290.4 1332.9,290.4 1328.3,280.5" fill="#F07F1D"/>
<polygon points="1318.9,308.7 1328.1,308.7 1323.5,298.8" fill="#F07F1D"/>
<polygon points="1310.7,320.2 1319.9,320.2 1315.3,310.3" fill="#12A5E6"/>
<polygon points="1298.8,325.9 1308.0,325.9 1303.4,316.0" fill="#F07F1D"/>
<polygon points="1329.2,325.9 1338.4,325.9 1333.8,316.0" fill="#F07F1D"/>
<polygon points="1277.9,331.9 1287.1,331.9 1282.5,322.0" fill="#F07F1D"/>
<polygon points="1340.2,346.5 1349.4,346.5 1344.8,336.6" fill="#F07F1D"/>
<polygon points="1301.1,353.5 1310.3,353.5 1305.7,343.6" fill="#F07F1D"/>
<polygon points="1298.3,381.8 1307.5,381.8 1302.9,371.9" fill="#F07F1D"/>
<g filter="url(#sh)"><polygon points="1334.20,258.20 1336.20,264.35 1342.66,264.35 1337.43,268.15 1339.43,274.30 1334.20,270.50 1328.97,274.30 1330.97,268.15 1325.74,264.35 1332.20,264.35" fill="#F07F1D"/></g>
<circle cx="1334.2" cy="267.2" r="2.1" fill="#2E9FC8"/>
<polygon points="63.80,600.00 67.26,610.64 78.45,610.64 69.39,617.22 72.85,627.86 63.80,621.28 54.75,627.86 58.21,617.22 49.15,610.64 60.34,610.64" fill="#000"/>
<text x="82.3" y="625.0" font-size="25.5" fill="#000" textLength="95.42" lengthAdjust="spacingAndGlyphs" font-weight="bold">Optimal</text>
<polygon points="189.5,624 206.2,624 197.85,606.6" fill="#CA5D13"/>
<text x="214.62" y="625.0" font-size="25.5" fill="#CA5D13" textLength="101.64" lengthAdjust="spacingAndGlyphs" font-weight="bold">Sampled</text>
<polygon points="334.4,624 350.4,624 342.4,606.6" fill="#1CADE4"/>
<text x="356.43" y="625.0" font-size="25.5" fill="#1CADE4" textLength="160.86" lengthAdjust="spacingAndGlyphs" font-weight="bold">Sample Space</text>
<polygon points="524.6,624 541.8,624 533.2,606.6" fill="#A6A6A6"/>
<text x="546.72" y="625.0" font-size="25.5" fill="#A6A6A6" textLength="104.99" lengthAdjust="spacingAndGlyphs" font-weight="bold">Excluded</text>
<text x="1.47" y="664.6" font-size="34.5" fill="#000" textLength="87.97" lengthAdjust="spacingAndGlyphs" class="s">Figure</text>
<text x="98.88" y="664.6" font-size="34.5" fill="#000" textLength="27.78" lengthAdjust="spacingAndGlyphs" class="s">2:</text>
<text x="141.3" y="664.6" font-size="34.5" fill="#000" textLength="40.5" lengthAdjust="spacingAndGlyphs" class="s">An</text>
<text x="191.98" y="664.6" font-size="34.5" fill="#000" textLength="143.02" lengthAdjust="spacingAndGlyphs" class="s">illustration</text>
<text x="349.04" y="664.6" font-size="34.5" fill="#000" textLength="25.63" lengthAdjust="spacingAndGlyphs" class="s">of</text>
<text x="382.5" y="664.6" font-size="34.5" fill="#000" textLength="171.04" lengthAdjust="spacingAndGlyphs" class="s">WeakNAS’s</text>
<text x="563.22" y="664.6" font-size="34.5" fill="#000" textLength="157.53" lengthAdjust="spacingAndGlyphs" class="s">progressive</text>
<text x="731.44" y="664.6" font-size="34.5" fill="#000" textLength="207.19" lengthAdjust="spacingAndGlyphs" class="s">approximation.</text>
<text x="954.47" y="664.6" font-size="34.5" fill="#000" textLength="119.04" lengthAdjust="spacingAndGlyphs" class="s">Previous</text>
<text x="1081.96" y="664.6" font-size="34.5" fill="#000" textLength="213.04" lengthAdjust="spacingAndGlyphs" class="s">predictor-based</text>
<text x="1305.46" y="664.6" font-size="34.5" fill="#000" textLength="68.97" lengthAdjust="spacingAndGlyphs" class="s">NAS</text>
</svg></body></html>
